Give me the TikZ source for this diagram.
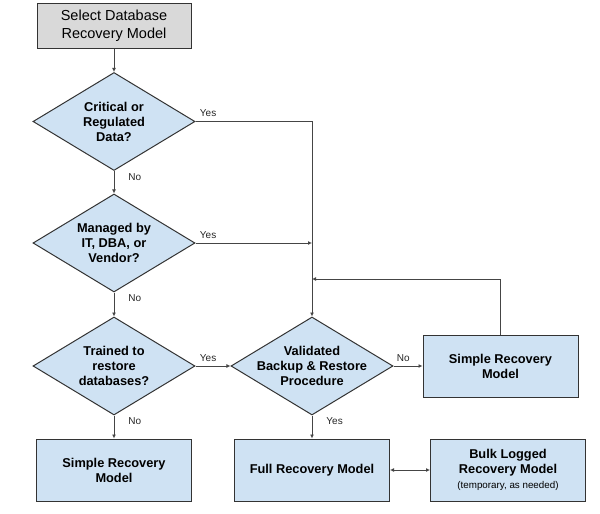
\documentclass[tikz,border=0pt]{standalone}
\usepackage{fontspec}
\setmainfont{Liberation Sans}
\usetikzlibrary{shapes.geometric,arrows.meta}
\definecolor{boxblue}{HTML}{CFE2F3}
\definecolor{boxgray}{HTML}{D9D9D9}
\definecolor{rim}{HTML}{333333}
\definecolor{wire}{HTML}{454545}

\begin{document}
\begin{tikzpicture}[x=1pt,y=-1pt,
  startbox/.style={rectangle,draw=rim,line width=1pt,fill=boxgray,minimum width=154pt,minimum height=45pt,align=center,font=\fontsize{14.5}{18}\selectfont},
  modelbox/.style={rectangle,draw=rim,line width=1pt,fill=boxblue,minimum width=155pt,minimum height=62pt,align=center,font=\bfseries\fontsize{12.8}{15}\selectfont},
  decision/.style={diamond,draw=rim,line width=1pt,fill=boxblue,minimum width=162pt,minimum height=98pt,aspect=1.65,inner sep=-8pt,align=center,font=\bfseries\fontsize{12.8}{15}\selectfont},
  arr/.style={draw=wire,line width=0.9pt,-{Latex[length=4pt,width=4pt]}},
  dualarr/.style={draw=wire,line width=0.9pt,{Latex[length=4pt,width=4pt]}-{Latex[length=4pt,width=4pt]}},
  lbl/.style={font=\fontsize{10}{12}\selectfont,inner sep=2pt,text=black!85}]
\useasboundingbox (0,0) rectangle (600,514);

%zacetek
\node[startbox] (start) at (114,25.5) {Select Database\\Recovery Model};

%vprasanja
\node[decision] (crit) at (114,121.5) {Critical or\\Regulated\\Data?};
\node[decision] (managed) at (114,243) {Managed by\\IT, DBA, or\\Vendor?};
\node[decision] (trained) at (114,366) {Trained to\\restore\\databases?};
\node[decision] (valid) at (312,366) {Validated\\Backup \& Restore\\Procedure};

%modeli
\node[modelbox] (simpleL) at (114,470) {Simple Recovery\\Model};
\node[modelbox] (simpleR) at (500.5,366) {Simple Recovery\\Model};
\node[modelbox] (full) at (312,470) {Full Recovery Model};
\node[modelbox] (bulk) at (508,470) {Bulk Logged\\Recovery Model\\{\mdseries\fontsize{9.8}{12}\selectfont (temporary, as needed)}};

\coordinate (join) at (312,243);
\coordinate (back) at (312,279);

%povezave levo
\draw[arr] (start) -- (crit);
\draw[arr] (crit) -- (managed) node[lbl,at start,below right,xshift=12pt] (no1) {No};
\draw[arr] (managed) -- (trained) node[lbl,at start,below right,xshift=12pt] (no2) {No};
\draw[arr] (trained) -- (simpleL) node[lbl,at start,below right,xshift=12pt] (no3) {No};

%povezave desno
\draw[arr] (crit.east) -| (valid.north) node[lbl,at start,above right,xshift=2pt,yshift=2pt] (yes1) {Yes};
\draw[arr] (managed.east) -- (join) node[lbl,at start,above right,xshift=2pt,yshift=2pt] (yes2) {Yes};
\draw[arr] (trained) -- (valid) node[lbl,at start,above right,xshift=2pt,yshift=2pt] (yes3) {Yes};
\draw[arr] (valid) -- (simpleR) node[lbl,at start,above right,xshift=1pt,yshift=2pt] (no4) {No};
\draw[arr] (valid) -- (full) node[lbl,at start,below right,xshift=12pt] (yes4) {Yes};
\draw[arr] (simpleR.north) |- (back);
\draw[dualarr] (full) -- (bulk);

\end{tikzpicture}
\end{document}
